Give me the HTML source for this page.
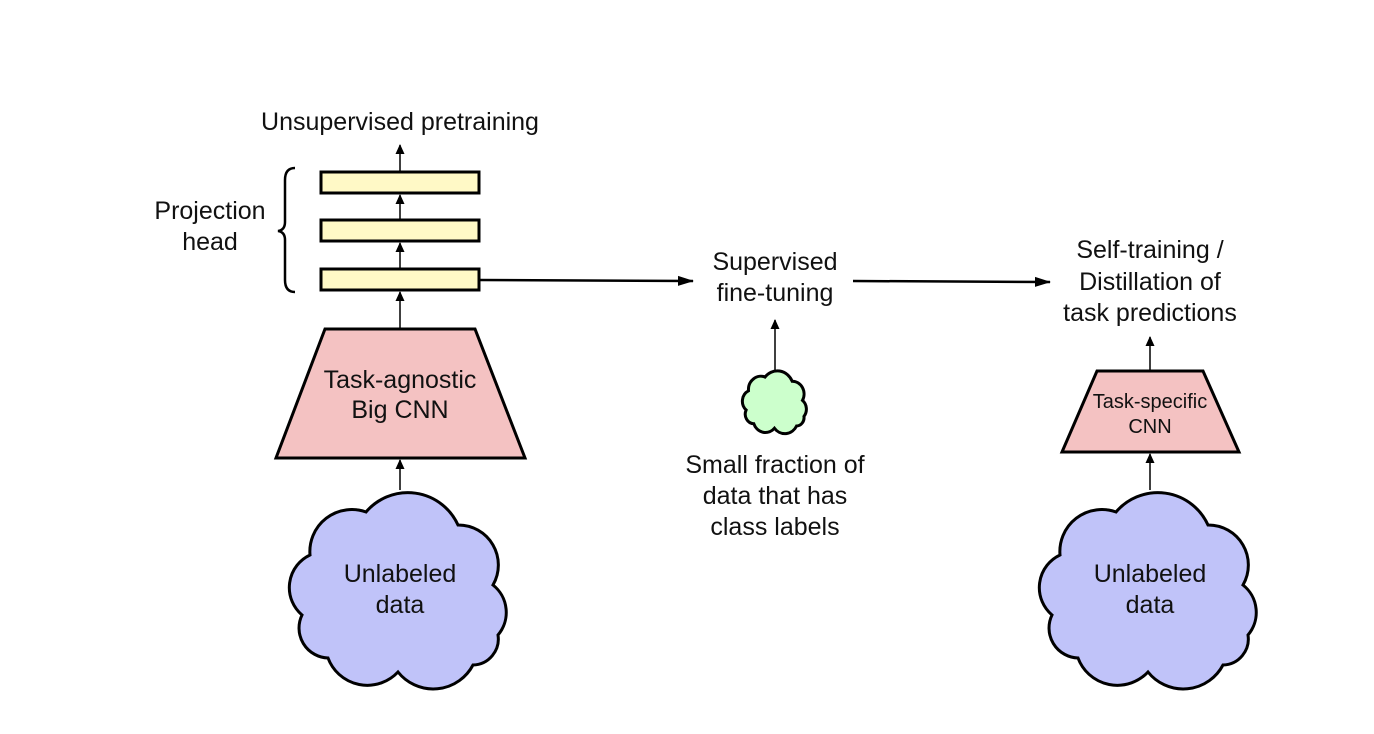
<!DOCTYPE html>
<html><head><meta charset="utf-8"><style>
html,body{margin:0;padding:0;background:#fff;}
svg{display:block;}
text{font-family:"Liberation Sans",Arial,sans-serif;fill:#111;}
</style></head><body>
<svg width="1374" height="734" viewBox="0 0 1374 734" xmlns="http://www.w3.org/2000/svg">
<defs>
<marker id="ah" markerWidth="10" markerHeight="10" refX="9" refY="5" orient="auto" markerUnits="userSpaceOnUse">
<path d="M0,0.5 L10,5 L0,9.5 Z" fill="#000"/>
</marker>
<marker id="ah2" markerWidth="16" markerHeight="12" refX="15" refY="6" orient="auto" markerUnits="userSpaceOnUse">
<path d="M0,1 L16,6 L0,11 Z" fill="#000"/>
</marker>
</defs>
<g transform="translate(288,490)">
<path vector-effect="non-scaling-stroke" d="M78,22 A55,55 0 0 1 170,35 A40,40 0 0 1 205,95 A35,35 0 0 1 210,145 A26,26 0 0 1 185,175 A45,45 0 0 1 110,182 A42,42 0 0 1 40,168 A30,30 0 0 1 14,125 A36,36 0 0 1 22,65 A42,42 0 0 1 78,22 Z" fill="#c0c3f9" stroke="#000" stroke-width="3"/>
</g>
<g transform="translate(1038,490)">
<path vector-effect="non-scaling-stroke" d="M78,22 A55,55 0 0 1 170,35 A40,40 0 0 1 205,95 A35,35 0 0 1 210,145 A26,26 0 0 1 185,175 A45,45 0 0 1 110,182 A42,42 0 0 1 40,168 A30,30 0 0 1 14,125 A36,36 0 0 1 22,65 A42,42 0 0 1 78,22 Z" fill="#c0c3f9" stroke="#000" stroke-width="3"/>
</g>
<g transform="translate(742,370) scale(0.295,0.32)">
<path vector-effect="non-scaling-stroke" d="M78,22 A55,55 0 0 1 170,35 A40,40 0 0 1 205,95 A35,35 0 0 1 210,145 A26,26 0 0 1 185,175 A45,45 0 0 1 110,182 A42,42 0 0 1 40,168 A30,30 0 0 1 14,125 A36,36 0 0 1 22,65 A42,42 0 0 1 78,22 Z" fill="#ccffcc" stroke="#000" stroke-width="3"/>
</g>
<polygon points="325,329 475,329 525,458 276,458" fill="#f4c2c2" stroke="#000" stroke-width="3"/>
<polygon points="1097,371 1203,371 1239,452 1062,452" fill="#f4c2c2" stroke="#000" stroke-width="3"/>
<rect x="321" y="172" width="158" height="21" fill="#fff9c6" stroke="#000" stroke-width="3"/>
<rect x="321" y="220" width="158" height="21" fill="#fff9c6" stroke="#000" stroke-width="3"/>
<rect x="321" y="269" width="158" height="21" fill="#fff9c6" stroke="#000" stroke-width="3"/>
<path d="M295,168 Q285,168 285,180 L285,222 Q285,230 278,231 Q285,232 285,240 L285,280 Q285,292 295,292" fill="none" stroke="#000" stroke-width="2.5"/>
<g stroke="#000" stroke-width="1.5" fill="none">
<line x1="400" y1="490" x2="400" y2="460" marker-end="url(#ah)"/>
<line x1="400" y1="328" x2="400" y2="292" marker-end="url(#ah)"/>
<line x1="400" y1="268" x2="400" y2="243" marker-end="url(#ah)"/>
<line x1="400" y1="219" x2="400" y2="195" marker-end="url(#ah)"/>
<line x1="400" y1="171" x2="400" y2="145" marker-end="url(#ah)"/>
<line x1="775" y1="370" x2="775" y2="320" marker-end="url(#ah)"/>
<line x1="1150" y1="370" x2="1150" y2="337" marker-end="url(#ah)"/>
<line x1="1150" y1="490" x2="1150" y2="454" marker-end="url(#ah)"/>
</g>
<g stroke="#000" stroke-width="2.5" fill="none">
<line x1="479" y1="280" x2="693" y2="281" marker-end="url(#ah2)"/>
<line x1="853" y1="281" x2="1050" y2="282" marker-end="url(#ah2)"/>
</g>
<g font-size="25" text-anchor="middle">
<text x="400" y="130">Unsupervised pretraining</text>
<text x="210" y="219">Projection</text>
<text x="210" y="250">head</text>
<text x="400" y="388">Task-agnostic</text>
<text x="400" y="418">Big CNN</text>
<text x="775" y="270">Supervised</text>
<text x="775" y="301">fine-tuning</text>
<text x="775" y="473">Small fraction of</text>
<text x="775" y="504">data that has</text>
<text x="775" y="535">class labels</text>
<text x="1150" y="258">Self-training /</text>
<text x="1150" y="290">Distillation of</text>
<text x="1150" y="321">task predictions</text>
<text x="400" y="582">Unlabeled</text>
<text x="400" y="613">data</text>
<text x="1150" y="582">Unlabeled</text>
<text x="1150" y="613">data</text>
</g>
<g font-size="20" text-anchor="middle">
<text x="1150" y="408">Task-specific</text>
<text x="1150" y="433">CNN</text>
</g>
</svg>
</body></html>
